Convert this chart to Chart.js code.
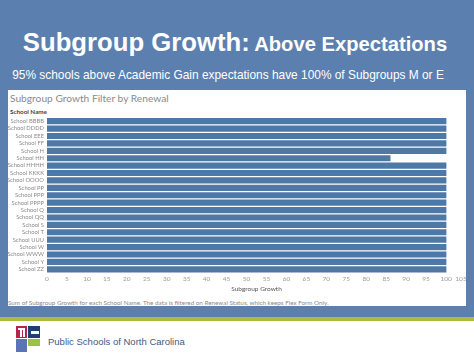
<!DOCTYPE html>
<html>
<head>
<meta charset="utf-8">
<script src="https://cdn.jsdelivr.net/npm/chart.js@4"></script>
<style>
  html, body { margin:0; padding:0; }
  body { width:474px; height:355px; position:relative; overflow:hidden; background:#ffffff; font-family:"Liberation Sans", Arial, sans-serif; }
  #bluebg { position:absolute; left:0; top:0; width:474px; height:317px; background:#5b80b0; }
  #green { position:absolute; left:0; top:317px; width:474px; height:4px; background:#a9bd3c; }
  #title { position:absolute; left:0; top:28px; width:470px; text-align:center; color:#fff; font-weight:bold; white-space:nowrap; }
  #title .big { font-size:25.7px; }
  #title .small { font-size:20.2px; }
  #subtitle { position:absolute; left:0; top:68px; width:456px; text-align:center; color:#fff; font-size:11.9px; white-space:nowrap; }
  #panel { position:absolute; left:8px; top:90px; width:458px; height:216px; background:#fff; }
  #ptitle { position:absolute; left:2px; top:2px; font-family:Lato, sans-serif; font-size:10.2px; color:#8a8a8a; white-space:nowrap; }
  #sname { position:absolute; left:2px; top:18px; font-family:Lato, sans-serif; font-size:6.3px; font-weight:bold; color:#444; white-space:nowrap; }
  #caption { position:absolute; left:0px; top:209px; font-family:Lato, sans-serif; font-size:6.3px; color:#8a8a8a; white-space:nowrap; }
  #chartwrap { position:absolute; left:8px; top:111px; width:458px; height:182px; }
  #footer { position:absolute; left:48px; top:336px; font-size:9.5px; color:#3b5a86; white-space:nowrap; }
  .lg { position:absolute; }
</style>
</head>
<body>
<div id="bluebg"></div>
<div id="green"></div>
<div id="title"><span class="big">Subgroup Growth:</span> <span class="small">Above Expectations</span></div>
<div id="subtitle">95% schools above Academic Gain expectations have 100% of Subgroups M or E</div>
<div id="panel">
  <div id="ptitle">Subgroup Growth Filter by Renewal</div>
  <div id="sname">School Name</div>
  <div id="caption">Sum of Subgroup Growth for each School Name. The data is filtered on Renewal Status, which keeps Flex Form Only.</div>
</div>
<div id="chartwrap"><canvas id="c" width="458" height="182"></canvas></div>

<div class="lg" style="left:16px;top:326px;width:11px;height:12px;background:#b5234e;"></div>
<div class="lg" style="left:18px;top:328px;width:7px;height:2px;background:#fff;"></div>
<div class="lg" style="left:20px;top:330px;width:1.5px;height:7px;background:#fff;"></div>
<div class="lg" style="left:23px;top:330px;width:1.5px;height:7px;background:#fff;"></div>
<div class="lg" style="left:28px;top:326px;width:12px;height:12px;background:#1f3f73;"></div>
<div class="lg" style="left:31px;top:331px;width:8px;height:3px;background:#fff;"></div>
<div class="lg" style="left:16px;top:339px;width:11px;height:13px;background:#5a74b8;"></div>
<div class="lg" style="left:28px;top:339px;width:12px;height:7px;background:#9cc23e;"></div>
<div id="footer">Public Schools of North Carolina</div>

<script>
const schools = ["School BBBB","School DDDD","School EEE","School FF","School H","School HH","School HHHH","School KKKK","School OOOO","School PP","School PPP","School PPPP","School Q","School QQ","School S","School T","School UUU","School W","School WWW","School Y","School ZZ"];
const growth = [100,100,100,100,100,86,100,100,100,100,100,100,100,100,100,100,100,100,100,100,100];
const xTicks = [0,5,10,15,20,25,30,35,40,45,50,55,60,65,70,75,80,85,90,95,100,105];

new Chart(document.getElementById('c'), {
  type: 'bar',
  data: {
    labels: schools,
    datasets: [{
      data: growth,
      backgroundColor: '#4e79a7',
      borderWidth: 0,
      barThickness: 5.5
    }]
  },
  options: {
    indexAxis: 'y',
    responsive: false,
    animation: false,
    layout: { padding: { top: 2, right: 0, left: 0, bottom: 0 } },
    plugins: { legend: { display: false }, tooltip: { enabled: false } },
    scales: {
      x: {
        min: 0, max: 105,
        afterBuildTicks: (s) => { s.ticks = xTicks.map(v => ({ value: v })); },
        afterFit: (s) => { s.height = 20; s.paddingRight = 0; s.paddingLeft = 0; },
        grid: { display: false, drawTicks: false },
        border: { display: false },
        ticks: {
          autoSkip: false, maxRotation: 0, padding: 2, color: '#9a9a9a', font: { family: 'Lato', size: 6.5 },
          callback: (v) => v === 105 ? '105\u00a0\u00a0\u00a0\u00a0\u00a0\u00a0' : String(v)
        },
        title: { display: true, text: 'Subgroup Growth', color: '#555', padding: { top: 2, bottom: 0 }, font: { family: 'Lato', size: 6.5 } }
      },
      y: {
        grid: { display: false, drawTicks: false },
        border: { display: false },
        afterFit: (s) => { s.width = 39; },
        ticks: { autoSkip: false, padding: 3, color: '#8a8a8a', font: { family: 'Lato', size: 5.8 } }
      }
    }
  }
});
</script>
</body>
</html>
